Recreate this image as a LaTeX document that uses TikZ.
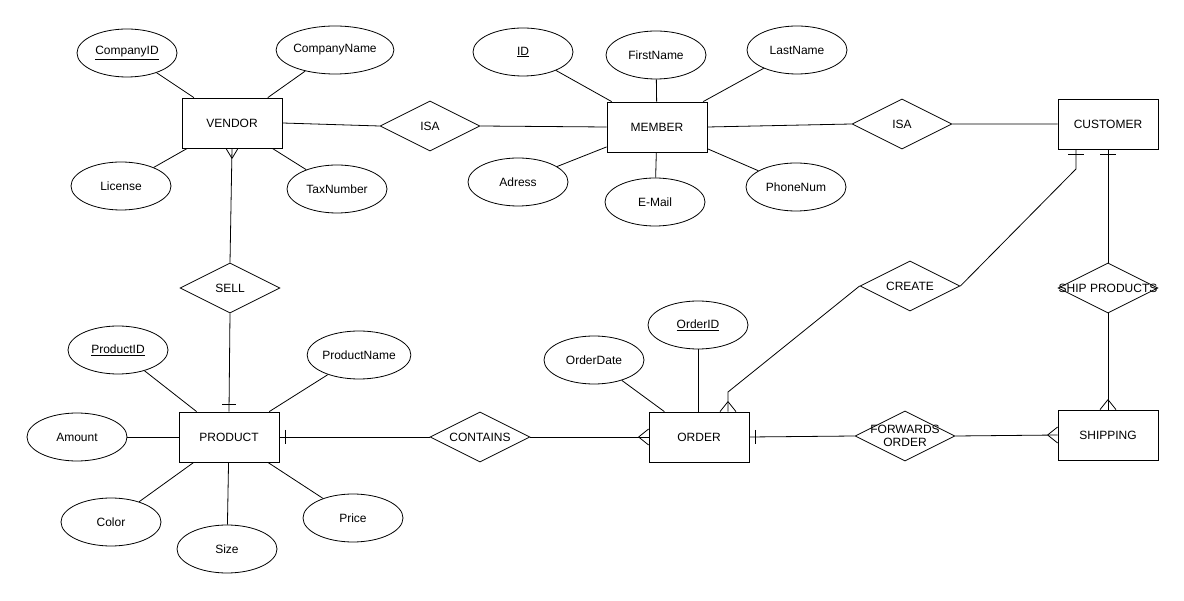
\documentclass[tikz,border=0pt]{standalone}
\usepackage{fontspec}
\setmainfont{Liberation Sans}
\usetikzlibrary{shapes.geometric,calc}
\begin{document}
\begin{tikzpicture}[x=1pt,y=-1pt,
  ent/.style={draw,rectangle,minimum width=100pt,minimum height=50pt,inner sep=0pt},
  att/.style={draw,ellipse,minimum width=100pt,minimum height=48pt,inner sep=0pt},
  rel/.style={draw,diamond,minimum width=100pt,minimum height=50pt,inner sep=0pt},
  lbl/.style={inner sep=0pt,align=center,font=\fontsize{12}{12.5}\selectfont},
  every node/.append style={font=\fontsize{12}{14}\selectfont},
  line width=0.8pt]
\useasboundingbox (0,0) rectangle (1184,601);
% entities
\node[ent] (ven) at (232,123) {VENDOR};
\node[ent] (mem) at (657,127) {MEMBER};
\node[ent] (cus) at (1108,124) {CUSTOMER};
\node[ent] (prod) at (229,437) {PRODUCT};
\node[ent] (ord) at (699,437) {ORDER};
\node[ent] (shp) at (1108,435) {SHIPPING};
% relationships
\node[rel] (isa1) at (430,126) {}; \node[lbl] (isa1t) at (isa1) {ISA};
\node[rel] (isa2) at (902,124) {}; \node[lbl] (isa2t) at (isa2) {ISA};
\node[rel] (sell) at (230,288) {}; \node[lbl] (sellt) at (sell) {SELL};
\node[rel] (con) at (480,437) {}; \node[lbl] (cont) at (con) {CONTAINS};
\node[rel] (cre) at (910,286) {}; \node[lbl] (cret) at (cre) {CREATE};
\node[rel] (ship) at (1108,288) {}; \node[lbl] (shipt) at (ship) {SHIP PRODUCTS};
\node[rel] (fwd) at (905,436) {}; \node[lbl] (fwdt) at (fwd) {FORWARDS\\ORDER};
% attributes
\node[att] (cid) at (127,53) {\underline{CompanyID}};
\node[att] (cname) at (335,50) {CompanyName};
\node[att] (lic) at (121,186) {License};
\node[att] (tax) at (337,189) {TaxNumber};
\node[att] (id) at (523,52) {\underline{ID}};
\node[att] (fn) at (656,55) {FirstName};
\node[att] (ln) at (797,50) {LastName};
\node[att] (adr) at (518,182) {Adress};
\node[att] (em) at (655,202) {E-Mail};
\node[att] (ph) at (796,187) {PhoneNum};
\node[att] (pid) at (118,350) {\underline{ProductID}};
\node[att] (pn) at (359,355) {ProductName};
\node[att] (amt) at (77,437) {Amount};
\node[att] (col) at (111,522) {Color};
\node[att] (siz) at (227,549) {Size};
\node[att] (pr) at (353,518) {Price};
\node[att] (od) at (594,360) {OrderDate};
\node[att] (oid) at (698,325) {\underline{OrderID}};
% attribute links
\foreach \a/\e in {cid/ven,cname/ven,lic/ven,tax/ven,id/mem,fn/mem,ln/mem,adr/mem,em/mem,ph/mem,
  pid/prod,pn/prod,amt/prod,col/prod,siz/prod,pr/prod,od/ord}
  \draw (\a) -- (\e);
\draw (oid.south) -- (oid.south |- ord.north);
% ISA links
\draw (ven.east) -- (isa1.west) (isa1.east) -- (mem.west);
\draw (mem.east) -- (isa2.west) (isa2.east) -- (cus.west);
% SELL
\draw (ven.south) -- (sell.north) (sell.south) -- (prod.north);
\draw ($(ven.south)+(0,10)$) -- ($(ven.south)+(-6,0)$) ($(ven.south)+(0,10)$) -- ($(ven.south)+(6,0)$);
\draw ($(prod.north)+(-7,-7)$) -- ++(14,0);
% CONTAINS
\draw (prod.east) -- (con.west) (con.east) -- (ord.west);
\draw ($(prod.east)+(6,-7)$) -- ++(0,14);
\draw ($(ord.west)+(-10,0)$) -- ($(ord.west)+(0,-8)$) ($(ord.west)+(-10,0)$) -- ($(ord.west)+(0,8)$);
% FORWARDS
\draw (ord.east) -- (fwd.west) (fwd.east) -- (shp.west);
\draw ($(ord.east)+(6,-7)$) -- ++(0,14);
\draw ($(shp.west)+(-10,0)$) -- ($(shp.west)+(0,-8)$) ($(shp.west)+(-10,0)$) -- ($(shp.west)+(0,8)$);
% CREATE
\coordinate (c1) at (1076,169);
\coordinate (c2) at (728,392);
\draw (cus.south -| c1) -- (c1) -- (cre.east) (cre.west) -- (c2) -- (c2 |- ord.north);
\draw ($(cus.south -| c1)+(-8,5)$) -- ++(16,0);
\draw ($(ord.north -| c2)+(0,-10)$) -- ($(ord.north -| c2)+(-8,0)$) ($(ord.north -| c2)+(0,-10)$) -- ($(ord.north -| c2)+(8,0)$);
% SHIP PRODUCTS
\draw (cus.south) -- (ship.north) (ship.south) -- (shp.north);
\draw ($(cus.south)+(-8,5)$) -- ++(16,0);
\draw ($(shp.north)+(0,-10)$) -- ($(shp.north)+(-8,0)$) ($(shp.north)+(0,-10)$) -- ($(shp.north)+(8,0)$);
\end{tikzpicture}
\end{document}
